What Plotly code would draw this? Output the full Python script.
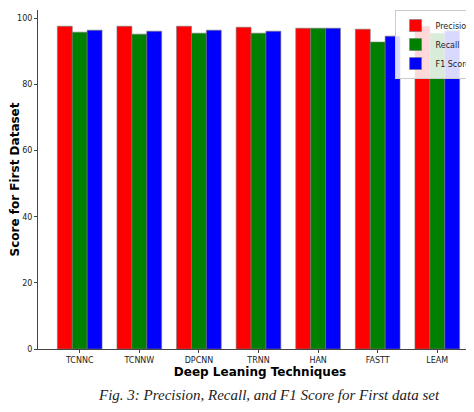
import plotly.graph_objects as go

techniques = ["TCNNC", "TCNNW", "DPCNN", "TRNN", "HAN", "FASTT", "LEAM"]
precision = [97.6, 97.6, 97.6, 97.3, 97.0, 96.7, 97.6]
recall = [95.8, 95.2, 95.5, 95.5, 97.0, 92.8, 95.5]
f1_score = [96.4, 96.1, 96.4, 96.1, 97.0, 94.6, 96.2]

fig = go.Figure()
for name, vals, col in [("Precision", precision, "red"),
                        ("Recall", recall, "green"),
                        ("F1 Score", f1_score, "blue")]:
    fig.add_trace(go.Bar(x=list(range(len(techniques))), y=vals, name=name,
                         marker_color=col, marker_line_width=0.6,
                         marker_line_color="#777"))

fig.update_layout(
    width=474, height=412,
    margin=dict(l=30, r=0, t=2, b=71),
    paper_bgcolor="white", plot_bgcolor="white",
    barmode="group", bargap=0.25, bargroupgap=0,
    font=dict(family="DejaVu Sans", size=8, color="#222"),
    legend=dict(x=0.99, y=1.0, xanchor="right", yanchor="top",
                bgcolor="rgba(255,255,255,0.85)", bordercolor="#ccc",
                borderwidth=1, font=dict(size=8), itemwidth=30,
                tracegroupgap=0),
)
fig.update_xaxes(tickvals=list(range(len(techniques))), ticktext=techniques,
                 range=[-0.7, 6.75], showline=True, linecolor="#444",
                 ticks="outside", ticklen=3, showgrid=False, automargin=False,
                 title=dict(text="<b>Deep Leaning Techniques</b>",
                            font=dict(size=12, color="black"), standoff=2))
fig.update_yaxes(range=[0, 102.5], tickvals=[0, 20, 40, 60, 80, 100],
                 showline=True, linecolor="#444", ticks="outside", ticklen=3,
                 showgrid=False, automargin=False,
                 title=dict(text="<b>Score for First Dataset</b>",
                            font=dict(size=12, color="black"), standoff=0))
fig.add_annotation(text="<i>Fig. 3: Precision, Recall, and F1 Score for First data set</i>",
                   xref="paper", yref="paper", x=0.52, y=-0.165, showarrow=False,
                   font=dict(family="Liberation Serif", size=15, color="#222"))
fig.write_html("out.html")
